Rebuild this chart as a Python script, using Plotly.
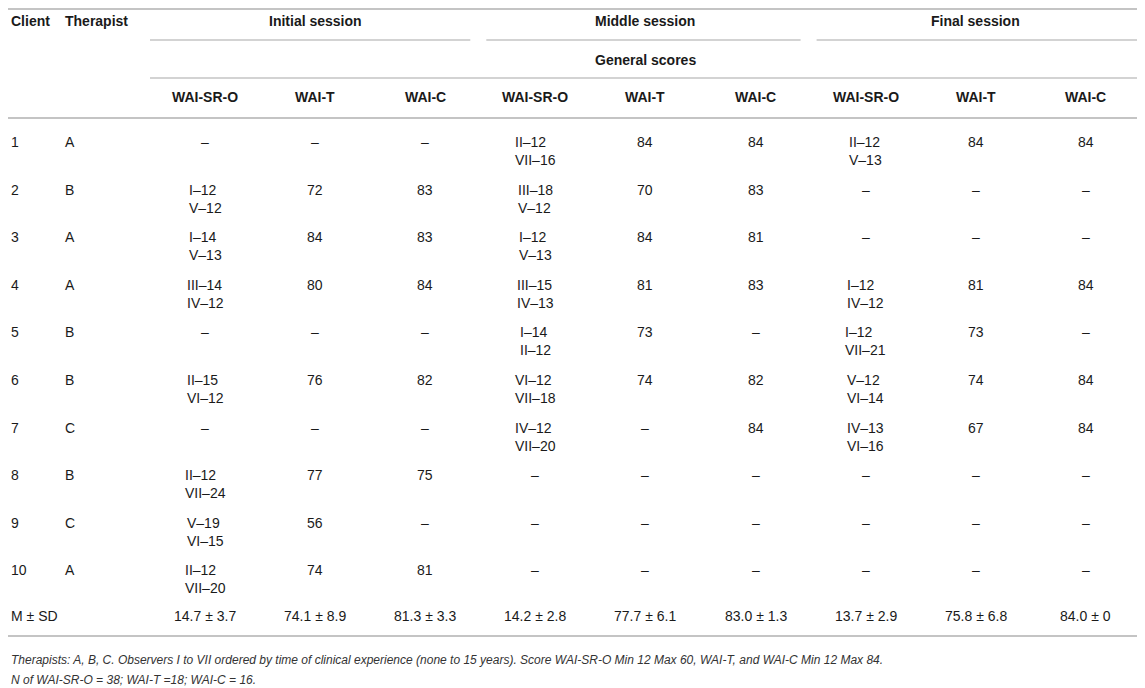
import plotly.graph_objects as go

# table content
clients = ["1", "2", "3", "4", "5", "6", "7", "8", "9", "10"]
therapists = ["A", "B", "A", "A", "B", "B", "C", "B", "C", "A"]

initial_sro = ["–", "I–12<br>V–12", "I–14<br>V–13", "III–14<br>IV–12", "–",
               "II–15<br>VI–12", "–", "II–12<br>VII–24", "V–19<br>VI–15", "II–12<br>VII–20"]
initial_t = ["–", "72", "84", "80", "–", "76", "–", "77", "56", "74"]
initial_c = ["–", "83", "83", "84", "–", "82", "–", "75", "–", "81"]

middle_sro = ["II–12<br>VII–16", "III–18<br>V–12", "I–12<br>V–13", "III–15<br>IV–13",
              "I–14<br>II–12", "VI–12<br>VII–18", "IV–12<br>VII–20", "–", "–", "–"]
middle_t = ["84", "70", "84", "81", "73", "74", "–", "–", "–", "–"]
middle_c = ["84", "83", "81", "83", "–", "82", "84", "–", "–", "–"]

final_sro = ["II–12<br>V–13", "–", "–", "I–12<br>IV–12", "I–12<br>VII–21",
             "V–12<br>VI–14", "IV–13<br>VI–16", "–", "–", "–"]
final_t = ["84", "–", "–", "81", "73", "74", "67", "–", "–", "–"]
final_c = ["84", "–", "–", "84", "–", "84", "84", "–", "–", "–"]

summary = ["14.7 ± 3.7", "74.1 ± 8.9", "81.3 ± 3.3",
           "14.2 ± 2.8", "77.7 ± 6.1", "83.0 ± 1.3",
           "13.7 ± 2.9", "75.8 ± 6.8", "84.0 ± 0"]

sessions = ["Initial session", "Middle session", "Final session"]
measures = ["WAI-SR-O", "WAI-T", "WAI-C"]

footnotes = ["Therapists: A, B, C. Observers I to VII ordered by time of clinical experience "
             "(none to 15 years). Score WAI-SR-O Min 12 Max 60, WAI-T, and WAI-C Min 12 Max 84.",
             "N of WAI-SR-O = 38; WAI-T =18; WAI-C = 16."]

columns = [initial_sro, initial_t, initial_c,
           middle_sro, middle_t, middle_c,
           final_sro, final_t, final_c]

W, H = 1145, 688
OFF = 8  # page body margin, so axis units equal screen pixels
LEFT = OFF + 1
FONT = "Liberation Sans, Arial, Helvetica, sans-serif"
TXT = "#1a1a1a"
LINE = "#c4c4c4"

col_left = 150
col_w = 110.1
row_top = 132
row_h = 47.6

fig = go.Figure()
ann = []
shapes = []


def text(x, y, s, bold=False, xanchor="center", yanchor="middle", size=14, color=TXT):
    if bold:
        s = "<b>" + s + "</b>"
    ann.append(dict(x=x, y=y, xref="x", yref="y", text=s, showarrow=False,
                    xanchor=xanchor, yanchor=yanchor, align="left",
                    font=dict(family=FONT, size=size, color=color)))


def hline(x0, x1, y, w=2):
    shapes.append(dict(type="line", xref="x", yref="y", x0=x0, x1=x1, y0=y, y1=y,
                       line=dict(color=LINE, width=w)))


def cx(i):
    return col_left + col_w * (i + 0.5)


# header
hline(OFF, W, OFF + 1)
text(LEFT, 21, "Client", bold=True, xanchor="left")
text(63, 21, "Therapist", bold=True, xanchor="left")
for k, s in enumerate(sessions):
    text(cx(3 * k + 1), 21, s, bold=True)
    hline(col_left + 3 * k * col_w + (0 if k == 0 else 6),
          col_left + 3 * (k + 1) * col_w - (10 if k < 2 else 3), 40, 1.5)
text((col_left + W - 4) / 2, 60, "General scores", bold=True)
hline(col_left, W - 4, 78, 1.5)
for i in range(9):
    text(cx(i), 97, measures[i % 3], bold=True)
hline(OFF, W, 118)

# body rows
for r in range(len(clients)):
    y = row_top + r * row_h
    text(LEFT, y, clients[r], xanchor="left", yanchor="top")
    text(63, y, therapists[r], xanchor="left", yanchor="top")
    for i, col in enumerate(columns):
        text(cx(i), y, col[r], yanchor="top")

# summary row
text(LEFT, 616, "M ± SD", xanchor="left")
for i, s in enumerate(summary):
    text(cx(i), 616, s)
hline(OFF, W, 636)

# footnote
for j, s in enumerate(footnotes):
    text(LEFT, 660 + 20 * j, "<i>" + s + "</i>", xanchor="left", size=12, color="#333333")

fig.update_layout(
    width=W - OFF, height=H - OFF,
    margin=dict(l=0, r=0, t=0, b=0),
    paper_bgcolor="white", plot_bgcolor="white",
    xaxis=dict(range=[OFF, W], visible=False, fixedrange=True),
    yaxis=dict(range=[H, OFF], visible=False, fixedrange=True),
    annotations=ann, shapes=shapes,
    showlegend=False,
)

fig.write_html("out.html")
